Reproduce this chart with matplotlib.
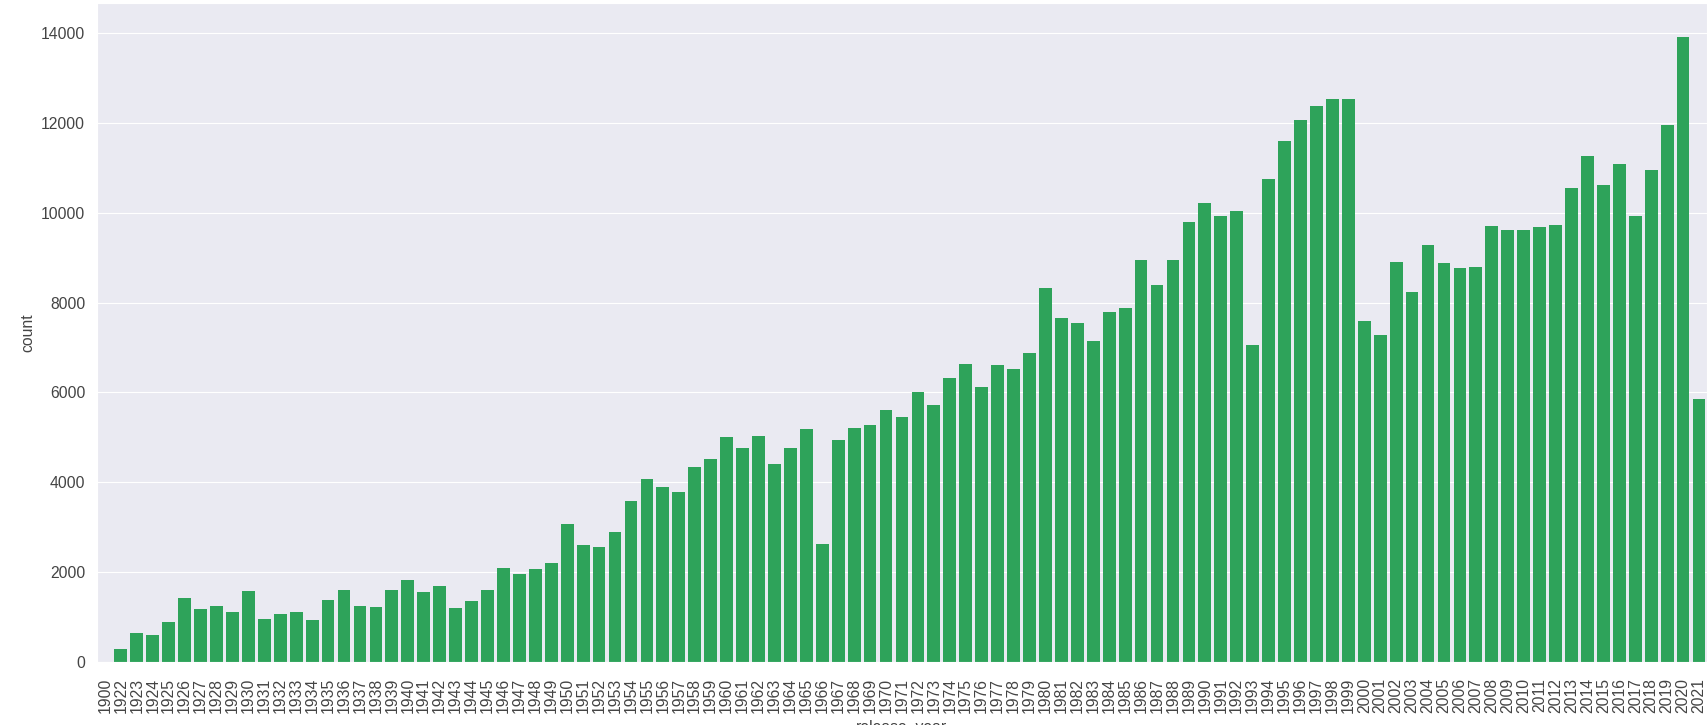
import matplotlib
matplotlib.use("Agg")
import matplotlib.pyplot as plt
import seaborn as sns

years = ["1900"] + [str(y) for y in range(1922, 2022)]

counts = [
    8,
    277, 646, 605, 882, 1416, 1180, 1252, 1108, 1590,          # 1922-1930
    954, 1077, 1108, 944, 1385, 1611, 1252, 1221, 1611, 1816,  # 1931-1940
    1549, 1683, 1190, 1354, 1611, 2093, 1949, 2062, 2196, 3068,  # 1941-1950
    2596, 2555, 2893, 3581, 4073, 3889, 3776, 4340, 4514, 4997,  # 1951-1960
    4761, 5027, 4412, 4761, 5181, 2627, 4945, 5212, 5284, 5602,  # 1961-1970
    5448, 6002, 5725, 6330, 6638, 6125, 6607, 6515, 6884, 8331,  # 1971-1980
    7654, 7541, 7151, 7787, 7890, 8947, 8393, 8947, 9788, 10219,  # 1981-1990
    9921, 10044, 7049, 10742, 11604, 12066, 12374, 12527, 12527, 7592,  # 1991-2000
    7274, 8906, 8229, 9275, 8875, 8762, 8803, 9706, 9614, 9614,  # 2001-2010
    9675, 9737, 10547, 11265, 10619, 11091, 9921, 10958, 11953, 13920,  # 2011-2020
    5858,  # 2021
]

sns.set_style("darkgrid")
plt.rcParams["font.family"] = ["Liberation Sans", "DejaVu Sans"]

fig = plt.figure(figsize=(17.07, 7.25), dpi=100)
ax = fig.add_axes([0.0568, 0.087, 0.9432, 0.909])

x = list(range(len(years)))
ax.bar(x, counts, width=0.8, color="#2ea35a", edgecolor="none")

ax.set_xlim(-0.5, len(years) - 0.5)
ax.set_ylim(0, 13974 * 1.05)
ax.set_yticks(range(0, 14001, 2000))
ax.set_xticks(x)
ax.set_xticklabels(years, rotation=90)
ax.tick_params(axis="x", labelsize=11.3, pad=11.5, length=0, colors="#444444")
ax.tick_params(axis="y", labelsize=11.3, pad=8.5, length=0, colors="#444444")
ax.set_xlabel("release_year", fontsize=11.3, labelpad=5, color="#444444")
ax.set_ylabel("count", fontsize=11.3, labelpad=4, color="#444444")
ax.grid(axis="x", visible=False)

fig.savefig("out.png", dpi=100)
